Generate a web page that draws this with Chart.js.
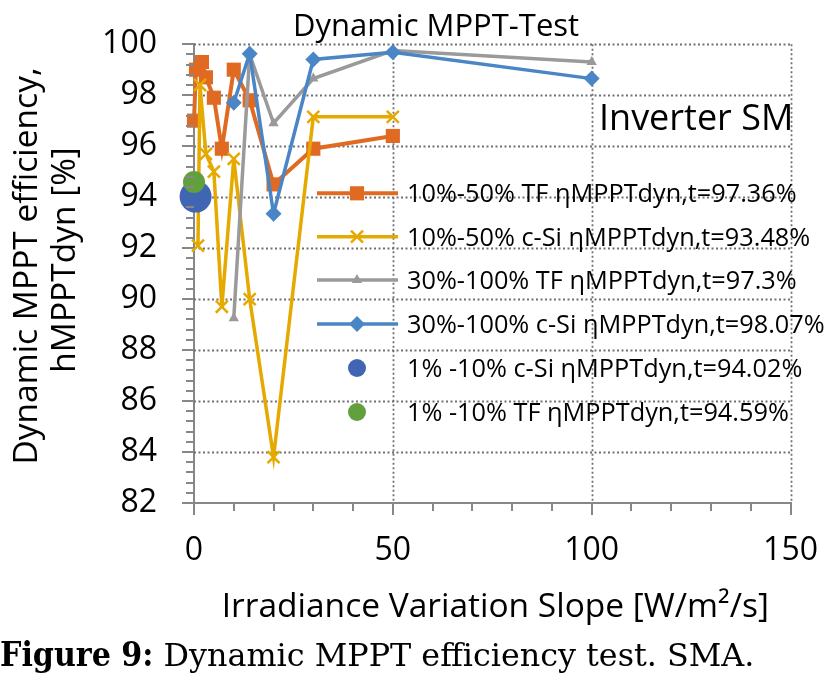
<!DOCTYPE html>
<html><head><meta charset="utf-8">
<script src="https://cdn.jsdelivr.net/npm/chart.js@4.4.1/dist/chart.umd.min.js"></script>
<style>
html,body{margin:0;padding:0;background:#fff;}
#wrap{position:relative;width:835px;height:693px;overflow:hidden;}
#c{position:absolute;left:0;top:0;}
#cap{position:absolute;left:0;top:639px;font-family:"DejaVu Serif",serif;font-size:31.8px;line-height:32px;color:#000;white-space:nowrap;}
#cap b{font-stretch:condensed;font-family:"DejaVu Serif Condensed","DejaVu Serif",serif;font-size:33.5px;}
</style></head><body>
<div id="wrap">
<canvas id="c" width="835" height="693"></canvas>
<div id="cap"><b>Figure 9:</b> Dynamic MPPT efficiency test. SMA.</div>
</div>
<script>
// ---- data ----
const tf1050X = [0, 0.5, 2, 3, 5, 7, 10, 14, 20, 30, 50];
const tf1050Y = [97.0, 99.0, 99.3, 98.7, 97.9, 95.9, 99.0, 97.8, 94.5, 95.9, 96.4];
const si1050X = [1, 1.5, 3, 5, 7, 10, 14, 20, 30, 50];
const si1050Y = [92.1, 98.4, 95.7, 95.0, 89.7, 95.5, 90.0, 83.8, 97.15, 97.15];
const tf30100X = [10, 14, 20, 30, 50, 100];
const tf30100Y = [89.25, 99.6, 96.9, 98.65, 99.75, 99.3];
const si30100X = [10, 14, 20, 30, 50, 100];
const si30100Y = [97.7, 99.63, 93.35, 99.4, 99.68, 98.65];
const si110X = [0.4];
const si110Y = [94.02];
const tf110X = [0];
const tf110Y = [94.59];

const seriesLabels = [
  '10%-50% TF ηMPPTdyn,t=97.36%',
  '10%-50% c-Si ηMPPTdyn,t=93.48%',
  '30%-100% TF ηMPPTdyn,t=97.3%',
  '30%-100% c-Si ηMPPTdyn,t=98.07%',
  '1% -10% c-Si ηMPPTdyn,t=94.02%',
  '1% -10% TF ηMPPTdyn,t=94.59%'
];
const xTicks = [0, 50, 100, 150];
const yTicks = [82, 84, 86, 88, 90, 92, 94, 96, 98, 100];
const xMinorStep = 10;
const yMinorStep = 0.4;

const chartTitle = 'Dynamic MPPT-Test';
const yTitle1 = 'Dynamic MPPT efficiency,';
const yTitle2 = 'hMPPTdyn [%]';
const xTitle = 'Irradiance Variation Slope [W/m²/s]';
const noteText = 'Inverter SM';

const pts = (xs, ys) => xs.map((x, i) => ({x: x, y: ys[i]}));

const FONT = "'Open Sans', sans-serif";
const AX = '#878787';
const GRID = '#707070';

const C_OR = '#E06A22', C_YE = '#E5A900', C_GR = '#9A9A9A', C_BL = '#4A86C5', C_BC = '#3F65B3', C_GN = '#62A03E';

const datasets = [
  {label: seriesLabels[0], data: pts(tf1050X, tf1050Y), borderColor: C_OR, backgroundColor: C_OR,
   borderWidth: 4, pointStyle: 'rect', pointRadius: 10, pointBorderWidth: 0, showLine: true, order: 6, legR: 10},
  {label: seriesLabels[1], data: pts(si1050X, si1050Y), borderColor: C_YE, backgroundColor: C_YE,
   borderWidth: 3.5, pointStyle: 'crossRot', pointRadius: 8.5, pointBorderWidth: 2.5, showLine: true, order: 5, legR: 8.5},
  {label: seriesLabels[2], data: pts(tf30100X, tf30100Y), borderColor: C_GR, backgroundColor: C_GR,
   borderWidth: 3.5, pointStyle: 'triangle', pointRadius: 6, pointBorderWidth: 0, showLine: true, order: 4, legR: 6},
  {label: seriesLabels[3], data: pts(si30100X, si30100Y), borderColor: C_BL, backgroundColor: C_BL,
   borderWidth: 3.5, pointStyle: 'rectRot', pointRadius: 8, pointBorderWidth: 0, showLine: true, order: 3, legR: 8},
  {label: seriesLabels[4], data: pts(si110X, si110Y), borderColor: C_BC, backgroundColor: C_BC,
   borderWidth: 0, pointStyle: 'circle', pointRadius: 16, pointBorderWidth: 0, showLine: false, order: 2, legR: 9, noLine: true},
  {label: seriesLabels[5], data: pts(tf110X, tf110Y), borderColor: C_GN, backgroundColor: C_GN,
   borderWidth: 0, pointStyle: 'circle', pointRadius: 11, pointBorderWidth: 0, showLine: false, order: 1, legR: 9, noLine: true}
];
datasets.forEach(d => { d.pointHoverRadius = d.pointRadius; d.tension = 0; d.fill = false; d.clip = false; });

const decor = {
  id: 'decor',
  beforeDatasetsDraw(chart) {
    const ctx = chart.ctx;
    const xs = chart.scales.x, ys = chart.scales.y;
    const ca = chart.chartArea;
    ctx.save();
    ctx.strokeStyle = GRID; ctx.lineWidth = 1.8; ctx.setLineDash([2, 2.5]);
    ctx.beginPath();
    xTicks.forEach(v => {
      if (v === xs.min) return;
      const px = Math.round(xs.getPixelForValue(v)) + 0.5;
      ctx.moveTo(px, ca.top); ctx.lineTo(px, ca.bottom);
    });
    yTicks.forEach(v => {
      if (v === ys.min) return;
      const py = Math.round(ys.getPixelForValue(v)) + 0.5;
      ctx.moveTo(ca.left, py); ctx.lineTo(ca.right, py);
    });
    ctx.stroke();
    ctx.restore();
  },
  afterDraw(chart) {
    const ctx = chart.ctx;
    const xs = chart.scales.x, ys = chart.scales.y;
    const ca = chart.chartArea;
    ctx.save();
    // minor ticks
    ctx.strokeStyle = AX; ctx.lineWidth = 2; ctx.setLineDash([]);
    ctx.beginPath();
    for (let v = xs.min + xMinorStep; v < xs.max; v += xMinorStep) {
      if (xTicks.indexOf(Math.round(v)) >= 0) continue;
      const px = Math.round(xs.getPixelForValue(v));
      ctx.moveTo(px, ca.bottom); ctx.lineTo(px, ca.bottom + 8);
    }
    for (let k = 1; ys.min + k * yMinorStep < ys.max - 1e-6; k++) {
      const v = ys.min + k * yMinorStep;
      if (Math.abs(v / 2 - Math.round(v / 2)) < 1e-6) continue;
      const py = Math.round(ys.getPixelForValue(v));
      ctx.moveTo(ca.left - 8, py); ctx.lineTo(ca.left, py);
    }
    ctx.stroke();

    ctx.fillStyle = '#000';
    // title
    ctx.font = '31px ' + FONT; ctx.textAlign = 'center'; ctx.textBaseline = 'alphabetic';
    ctx.fillText(chartTitle, 436, 36);
    // x title
    ctx.font = '33.5px ' + FONT;
    ctx.fillText(xTitle, (ca.left + ca.right) / 2 + 3, 617);
    // y title
    ctx.save(); ctx.translate(37, 266); ctx.rotate(-Math.PI / 2); ctx.fillText(yTitle1, 0, 0); ctx.restore();
    ctx.save(); ctx.translate(75, 260); ctx.rotate(-Math.PI / 2); ctx.fillText(yTitle2, 0, 0); ctx.restore();
    // note
    ctx.font = '36px ' + FONT; ctx.textAlign = 'left';
    ctx.fillText(noteText, 599, 130);

    // legend
    const rows = [193.3, 236.7, 280, 324, 368, 412];
    ctx.font = '25.3px ' + FONT;
    chart.data.datasets.forEach((d, i) => {
      const y = rows[i];
      if (!d.noLine) {
        ctx.strokeStyle = d.borderColor; ctx.lineWidth = d.borderWidth;
        ctx.beginPath(); ctx.moveTo(317, y); ctx.lineTo(398, y); ctx.stroke();
      }
      ctx.fillStyle = d.backgroundColor; ctx.strokeStyle = d.borderColor;
      ctx.lineWidth = d.pointBorderWidth;
      Chart.helpers.drawPoint(ctx, {pointStyle: d.pointStyle, radius: d.legR, borderWidth: d.pointBorderWidth, rotation: 0}, 357, y);
      ctx.fillStyle = '#000';
      ctx.fillText(d.label, 407, y + 9);
    });
    ctx.restore();
  }
};

new Chart(document.getElementById('c'), {
  type: 'scatter',
  data: {datasets: datasets},
  options: {
    responsive: false,
    animation: false,
    devicePixelRatio: 1,
    layout: {padding: {top: 43, right: 40, left: 0, bottom: 0}},
    plugins: {legend: {display: false}, title: {display: false}, tooltip: {enabled: false}},
    scales: {
      x: {
        type: 'linear', min: 0, max: 150,
        afterBuildTicks: s => { s.ticks = xTicks.map(v => ({value: v})); },
        afterFit: s => { s.height = 190; },
        ticks: {font: {family: FONT, size: 32}, color: '#000', padding: 17, maxRotation: 0, autoSkip: false},
        grid: {drawOnChartArea: false, color: AX, lineWidth: 2, tickLength: 12, tickColor: AX, tickWidth: 2},
        border: {display: true, color: AX, width: 2}
      },
      y: {
        type: 'linear', min: 82, max: 100,
        afterBuildTicks: s => { s.ticks = yTicks.map(v => ({value: v})); },
        afterFit: s => { s.width = 194; },
        ticks: {font: {family: FONT, size: 32}, color: '#000', padding: 25, autoSkip: false},
        grid: {drawOnChartArea: false, color: AX, lineWidth: 2, tickLength: 12, tickColor: AX, tickWidth: 2},
        border: {display: true, color: AX, width: 2}
      }
    }
  },
  plugins: [decor]
});
</script>
</body></html>
